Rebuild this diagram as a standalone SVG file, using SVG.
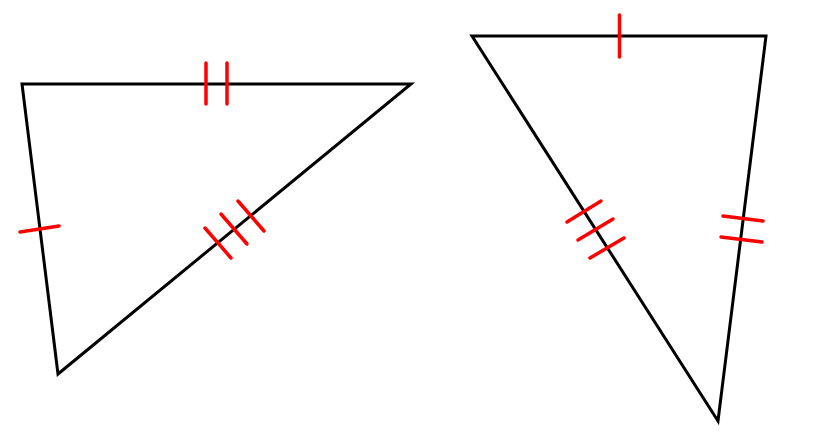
<svg xmlns="http://www.w3.org/2000/svg" width="831" height="438" viewBox="0 0 831 438">
<style>
.tri{fill:none;stroke:#000;stroke-width:3;stroke-linejoin:miter}
.tick{stroke:#ff0000;stroke-width:3.5;stroke-linecap:round}
</style>
<rect width="831" height="438" fill="#fff"/>
<g id="triangle-left">
<polygon class="tri" points="22,84 411,84 58,374"/>
</g>
<g id="triangle-right">
<polygon class="tri" points="472,36 766,36 718,421"/>
</g>
<g id="ticks">
<line class="tick" x1="206" y1="63" x2="206" y2="104"/>
<line class="tick" x1="227" y1="63" x2="227" y2="104"/>
<line class="tick" x1="20" y1="232" x2="59" y2="226"/>
<line class="tick" x1="205" y1="228" x2="231" y2="258"/>
<line class="tick" x1="221" y1="214" x2="247" y2="244"/>
<line class="tick" x1="238" y1="201" x2="264" y2="231"/>
<line class="tick" x1="619.5" y1="15" x2="619.5" y2="57"/>
<line class="tick" x1="567" y1="222" x2="601" y2="201"/>
<line class="tick" x1="578" y1="240" x2="613" y2="219"/>
<line class="tick" x1="590" y1="258" x2="624" y2="238"/>
<line class="tick" x1="723" y1="216" x2="763" y2="221"/>
<line class="tick" x1="721" y1="237" x2="762" y2="242"/>
</g>
</svg>
